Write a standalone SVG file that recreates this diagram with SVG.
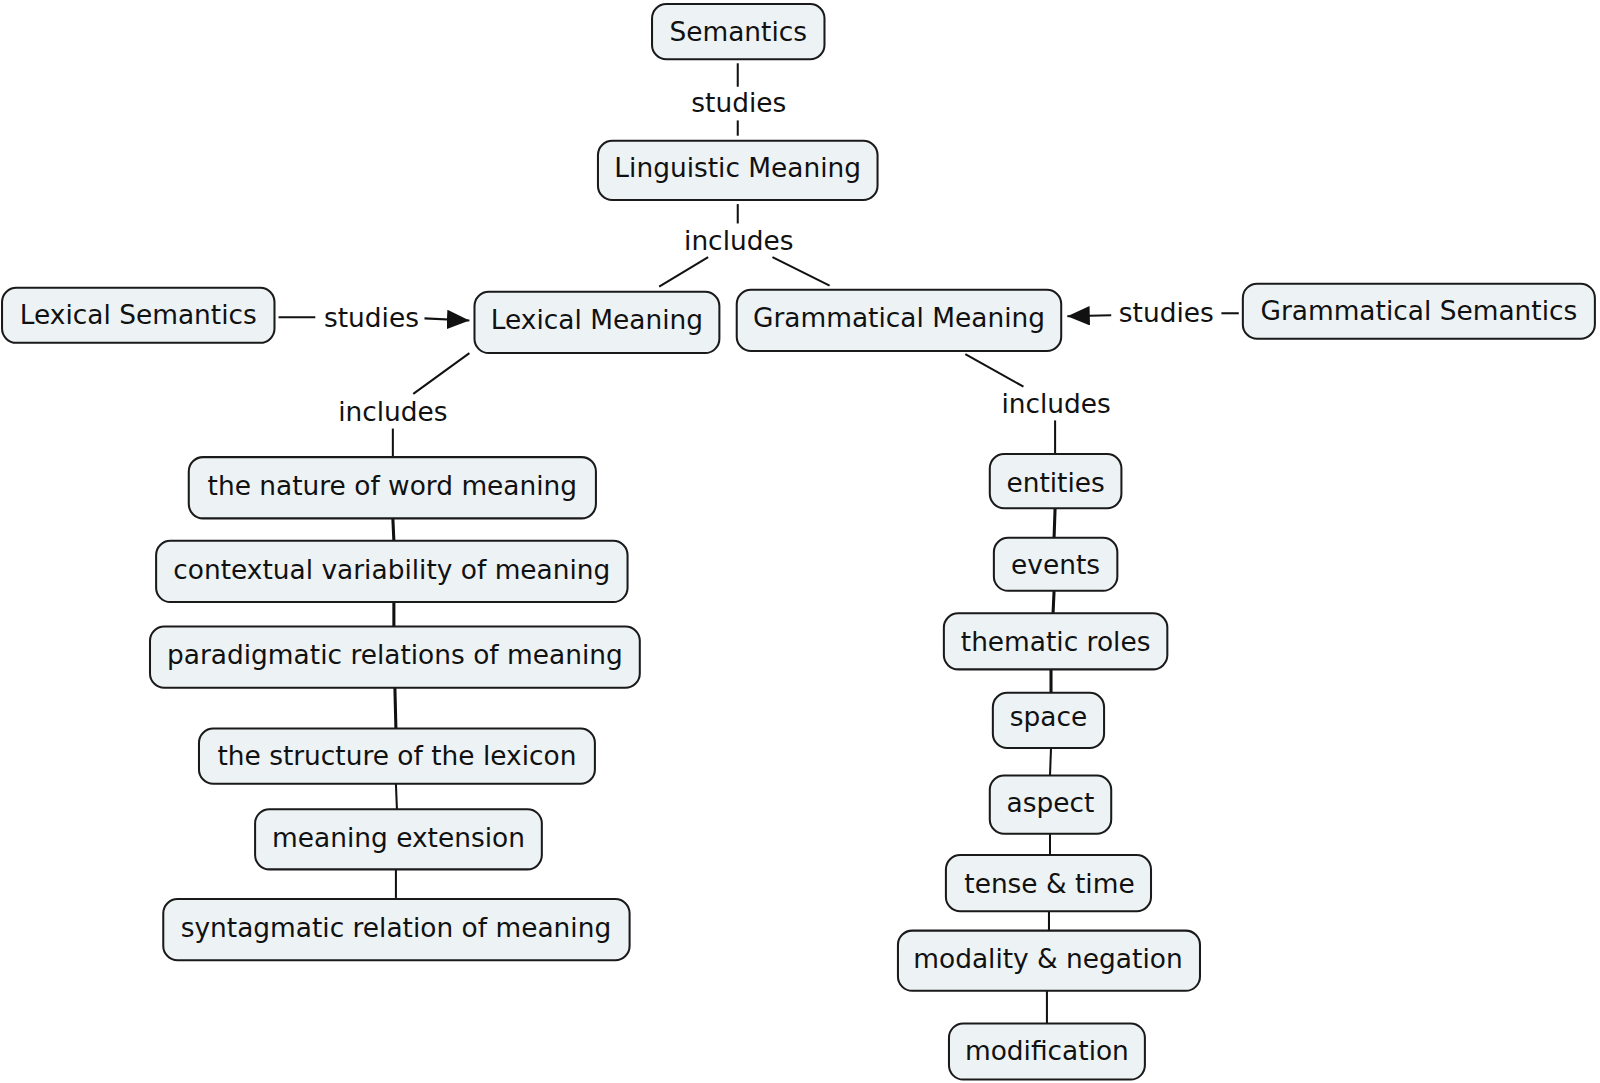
<svg xmlns="http://www.w3.org/2000/svg" width="1600" height="1083" viewBox="0 0 1600 1083">
<defs>
<style>
.n rect{fill:#edf3f5;stroke:#1a1a1a;stroke-width:2}
text{font-family:"DejaVu Sans",Verdana,sans-serif;font-size:25.9px;fill:#111;text-anchor:middle}
.c line{stroke:#111;stroke-width:2}
.c .t{stroke-width:3}
</style>
<marker id="ah" viewBox="0 0 10 10" refX="10" refY="5" markerWidth="22" markerHeight="19" markerUnits="userSpaceOnUse" orient="auto" preserveAspectRatio="none"><path d="M0,0L10,5L0,10Z" fill="#111"/></marker>
</defs>
<rect width="1600" height="1083" fill="#fff"/>
<g transform="scale(1.0204)">
<g class="c">
<line x1="723" y1="62" x2="723" y2="85"/>
<line x1="723" y1="118" x2="723" y2="133"/>
<text x="724" y="110">studies</text>
<line x1="723" y1="200" x2="723" y2="219"/>
<text x="724" y="245">includes</text>
<line x1="694" y1="252" x2="646" y2="281"/>
<line x1="757" y1="252" x2="813" y2="280"/>
<line x1="273" y1="311" x2="309" y2="311"/>
<text x="364" y="320">studies</text>
<line x1="416" y1="312" x2="460" y2="314" marker-end="url(#ah)"/>
<line x1="1214" y1="307" x2="1197" y2="307"/>
<text x="1143" y="316">studies</text>
<line x1="1089" y1="309" x2="1046" y2="310" marker-end="url(#ah)"/>
<line x1="460" y1="346" x2="405" y2="386"/>
<text x="385" y="413">includes</text>
<line x1="385" y1="420" x2="385" y2="447"/>
<line x1="946" y1="347" x2="1003" y2="379"/>
<text x="1035" y="405">includes</text>
<line x1="1034" y1="412" x2="1034" y2="444"/>
<line class="t" x1="385" y1="508" x2="386" y2="530"/>
<line class="t" x1="386" y1="590" x2="386" y2="614"/>
<line class="t" x1="387" y1="674" x2="388" y2="714"/>
<line x1="388" y1="768" x2="389" y2="793"/>
<line x1="388" y1="852" x2="388" y2="880"/>
<line class="t" x1="1034" y1="498" x2="1033" y2="527"/>
<line class="t" x1="1033" y1="579" x2="1032" y2="601"/>
<line class="t" x1="1030" y1="656" x2="1030" y2="679"/>
<line x1="1030" y1="733" x2="1029" y2="760"/>
<line x1="1029" y1="817" x2="1029" y2="838"/>
<line x1="1028" y1="893" x2="1028" y2="912"/>
<line x1="1026" y1="971" x2="1026" y2="1003"/>
</g>
<g class="n" id="semantics"><rect x="639" y="4" width="169" height="54" rx="14"/><text x="723.5" y="40">Semantics</text></g>
<g class="n" id="linguistic-meaning"><rect x="586" y="138" width="274" height="58" rx="14"/><text x="723" y="173">Linguistic Meaning</text></g>
<g class="n" id="lexical-semantics"><rect x="2" y="282" width="267" height="54" rx="14"/><text x="135.5" y="318">Lexical Semantics</text></g>
<g class="n" id="lexical-meaning"><rect x="465" y="286" width="240" height="60" rx="14"/><text x="585" y="322">Lexical Meaning</text></g>
<g class="n" id="grammatical-meaning"><rect x="722" y="284" width="318" height="60" rx="14"/><text x="881" y="320">Grammatical Meaning</text></g>
<g class="n" id="grammatical-semantics"><rect x="1218" y="278" width="345" height="54" rx="14"/><text x="1390.5" y="314">Grammatical Semantics</text></g>
<g class="n" id="nature"><rect x="185" y="448" width="399" height="60" rx="14"/><text x="384.5" y="485">the nature of word meaning</text></g>
<g class="n" id="contextual"><rect x="153" y="530" width="462" height="60" rx="14"/><text x="384" y="567">contextual variability of meaning</text></g>
<g class="n" id="paradigmatic"><rect x="147" y="614" width="480" height="60" rx="14"/><text x="387" y="651">paradigmatic relations of meaning</text></g>
<g class="n" id="structure"><rect x="195" y="714" width="388" height="54" rx="14"/><text x="389" y="750">the structure of the lexicon</text></g>
<g class="n" id="extension"><rect x="250" y="793" width="281" height="59" rx="14"/><text x="390.5" y="830">meaning extension</text></g>
<g class="n" id="syntagmatic"><rect x="160" y="881" width="457" height="60" rx="14"/><text x="388" y="918">syntagmatic relation of meaning</text></g>
<g class="n" id="entities"><rect x="970" y="445" width="129" height="53" rx="14"/><text x="1034.5" y="482">entities</text></g>
<g class="n" id="events"><rect x="974" y="527" width="121" height="52" rx="14"/><text x="1034.5" y="563">events</text></g>
<g class="n" id="thematic"><rect x="925" y="601" width="219" height="55" rx="14"/><text x="1034.5" y="638">thematic roles</text></g>
<g class="n" id="space"><rect x="973" y="679" width="109" height="54" rx="14"/><text x="1027.5" y="711">space</text></g>
<g class="n" id="aspect"><rect x="970" y="760" width="119" height="57" rx="14"/><text x="1029.5" y="796">aspect</text></g>
<g class="n" id="tense"><rect x="927" y="838" width="201" height="55" rx="14"/><text x="1028.5" y="875">tense &amp; time</text></g>
<g class="n" id="modality"><rect x="880" y="912" width="296" height="59" rx="14"/><text x="1027" y="949">modality &amp; negation</text></g>
<g class="n" id="modification"><rect x="930" y="1003" width="192" height="55" rx="14"/><text x="1026" y="1039">modification</text></g>
</g>
</svg>
